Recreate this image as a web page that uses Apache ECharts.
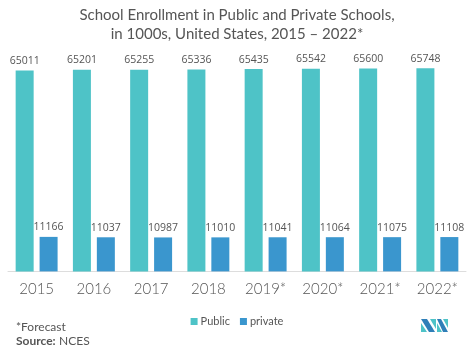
<!DOCTYPE html>
<html>
<head>
<meta charset="utf-8">
<script src="https://cdn.jsdelivr.net/npm/echarts@6/dist/echarts.min.js"></script>
<style>html,body{margin:0;padding:0;background:#fff;}#c{width:474px;height:355px;}</style>
</head>
<body>
<div id="c"></div>
<script>
const categories = ['2015','2016','2017','2018','2019*','2020*','2021*','2022*'];
const publicValues = [65011,65201,65255,65336,65435,65542,65600,65748];
const privateValues = [11166,11037,10987,11010,11041,11064,11075,11108];
const seriesNames = ['Public','private'];

const chart = echarts.init(document.getElementById('c'));
const FONT = 'Lato';
chart.setOption({
  backgroundColor: '#fff',
  animation: false,
  title: {
    text: 'School Enrollment in Public and Private Schools,\nin 1000s, United States, 2015 – 2022*',
    left: 'center', top: 1,
    textStyle: {fontFamily: FONT, fontSize: 15, fontWeight: 'normal', color: '#555', lineHeight: 19}
  },
  legend: {
    data: seriesNames, left: 'center', top: 311,
    icon: 'rect', itemWidth: 7, itemHeight: 7, itemGap: 10,
    textStyle: {fontFamily: FONT, fontSize: 11, color: '#555', padding: [0,0,0,-2]}
  },
  grid: {left: 8, right: 8, top: 55, height: 216.4, containLabel: false},
  xAxis: {
    type: 'category', data: categories,
    axisLine: {lineStyle: {color: '#ddd'}},
    axisTick: {show: false},
    axisLabel: {fontFamily: FONT, fontWeight: 300, fontSize: 15, color: '#555', margin: 10}
  },
  yAxis: {type: 'value', min: 0, max: 70000, show: false, splitLine: {show: false}},
  series: [
    {name: seriesNames[0], type: 'bar', data: publicValues, barWidth: 18, barGap: '33%',
     itemStyle: {color: '#4EC3C7'},
     label: {show: true, position: 'top', distance: 4, fontFamily: 'Open Sans', fontSize: 10.5, color: '#555'}},
    {name: seriesNames[1], type: 'bar', data: privateValues, barWidth: 18,
     itemStyle: {color: '#3A96CE'},
     label: {show: true, position: 'top', distance: 4, fontFamily: 'Open Sans', fontSize: 10.5, color: '#555'}}
  ],
  graphic: [
    {type: 'text', left: 16, top: 321, style: {text: '*Forecast', font: '12px Lato', fill: '#555'}},
    {type: 'text', left: 16, top: 335, style: {rich: {b: {fontWeight: 'bold', fontFamily: FONT, fontSize: 12, fill: '#555'}, n: {fontFamily: FONT, fontSize: 12, fill: '#555'}}, text: '{b|Source:} {n|NCES}'}},
    {type: 'group', left: 421, top: 319, children: [
      {type: 'polygon', shape: {points: [[0,0],[6,0],[14,13],[8,13]]}, style: {fill: '#2F7FB8'}},
      {type: 'polygon', shape: {points: [[0,4],[0,13],[6,13]]}, style: {fill: '#4EC3C7'}},
      {type: 'polygon', shape: {points: [[9,0],[15,0],[15,10]]}, style: {fill: '#4EC3C7'}},
      {type: 'polygon', shape: {points: [[16,0],[20,0],[27,13],[22,13]]}, style: {fill: '#2F7FB8'}},
      {type: 'polygon', shape: {points: [[16,4],[16,13],[21,13]]}, style: {fill: '#4EC3C7'}},
      {type: 'polygon', shape: {points: [[22,0],[27,0],[27,9]]}, style: {fill: '#4EC3C7'}}
    ]}
  ]
});
</script>
</body>
</html>
